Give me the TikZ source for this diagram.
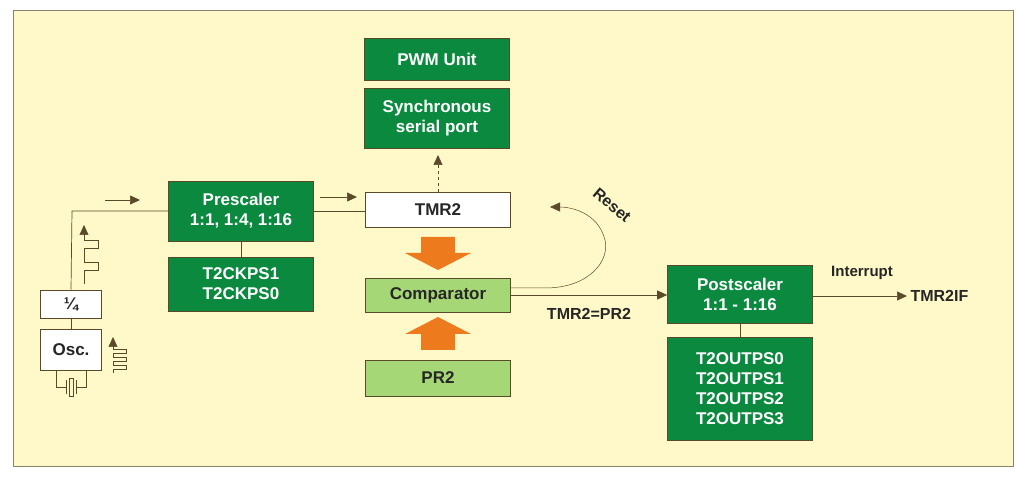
\documentclass[tikz,border=0pt]{standalone}
\usepackage{fontspec}
\setmainfont{Liberation Sans}
\usetikzlibrary{arrows.meta}
\definecolor{bg}{HTML}{FFF8C8}
\definecolor{dkg}{HTML}{0B8A3F}
\definecolor{ltg}{HTML}{A6D777}
\definecolor{org}{HTML}{EE7A1E}
\definecolor{ln}{HTML}{5A4A2A}
\begin{document}
\begin{tikzpicture}[x=1pt,y=-1pt,>={Triangle[length=10pt,width=9pt]},
  box/.style={draw=ln,line width=0.6pt,minimum width=145pt,align=center,font=\bfseries\fontsize{17}{20}\selectfont,inner sep=2pt},
  dk/.style={box,fill=dkg,text=white},
  lt/.style={box,fill=ltg,text=black!85},
  wt/.style={box,fill=white,text=black!85},
  lbl/.style={font=\bfseries\fontsize{16}{19}\selectfont,text=black!85},
  wire/.style={draw=ln,line width=0.7pt}]
\useasboundingbox (0,0) rectangle (1026,486);
\fill[white] (0,0) rectangle (1026,486);
\draw[fill=bg,draw=ln!70,line width=0.6pt] (13,10) rectangle (1013,466);

\node[dk,minimum height=42pt] (pwm) at (437,59) {PWM Unit};
\node[dk,minimum height=60pt] (ssp) at (437,118) {Synchronous\\serial port};
\node[wt,minimum height=35pt] (tmr) at (438,210) {TMR2};
\node[lt,minimum height=34pt] (cmp) at (438,295) {Comparator};
\node[lt,minimum height=36pt] (pr) at (438,378) {PR2};
\fill[org] (421,237) -- (455,237) -- (455,253) -- (471,253) -- (438,270) -- (405,253) -- (421,253) -- cycle;
\fill[org] (421,350) -- (455,350) -- (455,334) -- (471,334) -- (438,317) -- (405,334) -- (421,334) -- cycle;

\node[dk,minimum height=60pt] (pre) at (241,211) {Prescaler\\1:1, 1:4, 1:16};
\node[dk,minimum height=54pt] (ckps) at (241,284) {T2CKPS1\\T2CKPS0};
\node[wt,minimum width=61pt,minimum height=28pt] (div) at (71,304) {¼};
\node[wt,minimum width=61pt,minimum height=41pt] (osc) at (71,350) {Osc.};

\node[dk,minimum height=58pt] (post) at (740,294) {Postscaler\\1:1 - 1:16};
\node[dk,minimum height=103pt] (outps) at (740,389) {T2OUTPS0\\T2OUTPS1\\T2OUTPS2\\T2OUTPS3};
\node[lbl,anchor=west] (irq) at (907,296) {TMR2IF};

\coordinate (c1) at (72,211);
\draw[wire] (div.north) -- (c1) -- (pre.west);
\draw[wire] (pre.east) -- (tmr.west|-pre.east);
\draw[wire] (pre) -- (ckps);
\draw[wire] (div) -- (osc);
\draw[wire] (post) -- (outps);
\draw[wire,->] (105,200) -- (140,200);
\draw[wire,->] (320,197) -- (357,197);
\draw[wire,dashed,->] (tmr.north) -- (438,155);
\draw[wire,->] (cmp.east) -- (post.west|-cmp.east);
\draw[wire,line width=0.5pt,->] (cmp.east|-0,288) -- (545,288) .. controls (590,288) and (610,260) .. (605,240) .. controls (598,212) and (570,207) .. (550,207);
\node[lbl,rotate=-40] at (612,205) {Reset};
\node[lbl] at (589,314) {TMR2=PR2};
\draw[wire,->] (post.east|-irq) -- (irq.west);
\node[lbl,font=\bfseries\fontsize{15}{18}\selectfont] at (862,273) {Interrupt};

% clock waveforms
\draw[wire,line width=0.5pt] (84,284) -- (84,270) -- (98,270) -- (98,262) -- (84,262) -- (84,248) -- (98,248) -- (98,240) -- (84,240) -- (84,228);
\draw[wire,line width=0.5pt,->] (84,232) -- (84,225);
\draw[wire,line width=0.5pt] (113,373) -- (113,369) -- (126,369) -- (126,365) -- (113,365) -- (113,361) -- (126,361) -- (126,357) -- (113,357) -- (113,353) -- (126,353) -- (126,349) -- (113,349) -- (113,340);
\draw[wire,line width=0.5pt,->] (113,345) -- (113,337);
% crystal
\draw[wire,line width=0.5pt] (56,371) -- (56,387) -- (66,387);
\draw[wire,line width=0.5pt] (86,371) -- (86,387) -- (76,387);
\draw[wire,line width=0.5pt] (66,380) -- (66,394) (76,380) -- (76,394);
\draw[wire,line width=0.5pt] (69,378) rectangle (73,396);
\end{tikzpicture}
\end{document}
